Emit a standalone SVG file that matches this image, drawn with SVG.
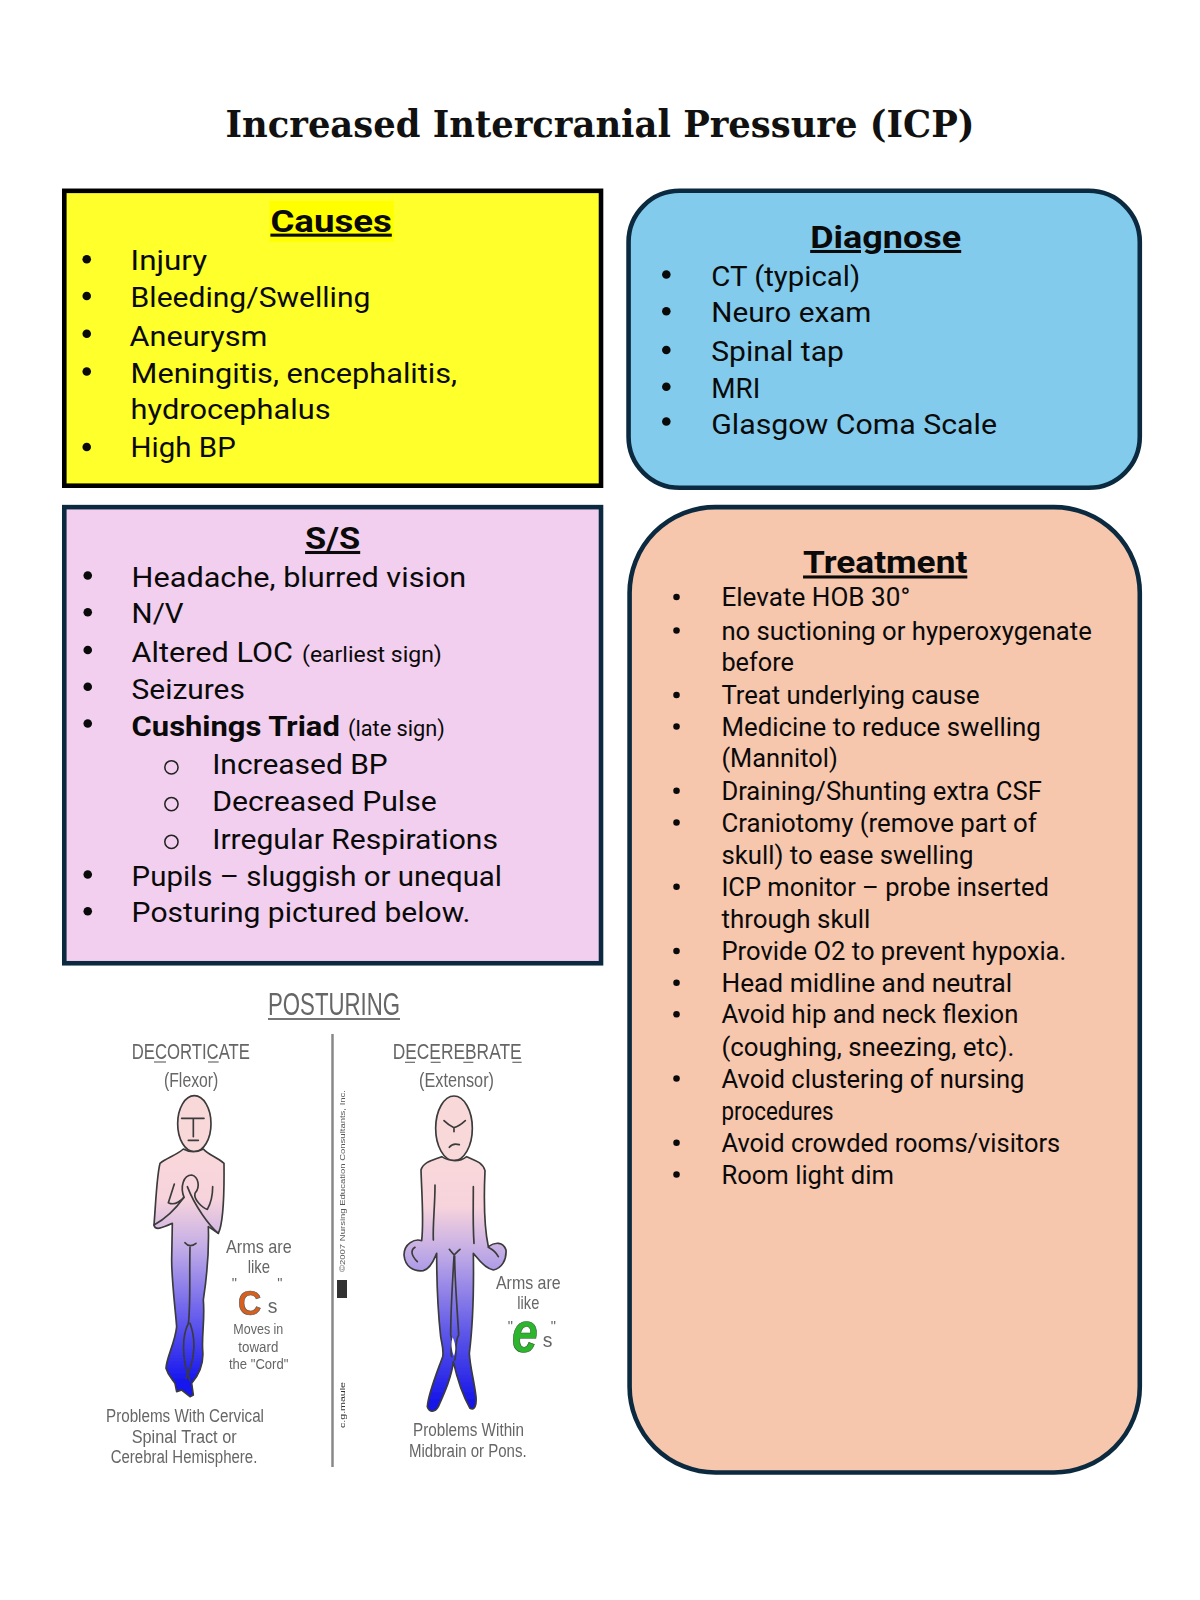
<svg xmlns="http://www.w3.org/2000/svg" width="1200" height="1600" viewBox="0 0 1200 1600">
<style>
text{font-family:"Roboto","Liberation Sans",sans-serif;fill:#0a0a0a}
.t{font-size:27.5px}
.s{font-size:24.5px}
.m{font-size:21px}
.h{font-size:30px;font-weight:700;text-decoration:underline}
.b{font-size:27.5px;font-weight:700}
.title{font-family:"DejaVu Serif","Liberation Serif",serif;font-size:36px;font-weight:700;fill:#111}
.box{stroke:#0b2a3f;stroke-width:4.5}
.dot{fill:#0a0a0a}
.ring{fill:none;stroke:#222;stroke-width:1.5}
.g text{font-family:"Liberation Sans",sans-serif;fill:#666}
.line{fill:none;stroke:#3a3a3a;stroke-width:5;stroke-linejoin:round;stroke-linecap:round}
.ul{stroke:#777;stroke-width:4}
</style>
<defs>
<linearGradient id="g1" gradientUnits="userSpaceOnUse" x1="0" y1="560" x2="0" y2="1270">
<stop offset="0" stop-color="#f9d8da"/><stop offset=".22" stop-color="#f7d3dc"/><stop offset=".42" stop-color="#c4aee6"/><stop offset=".7" stop-color="#6c62ec"/><stop offset="1" stop-color="#1414ee"/>
</linearGradient>
<linearGradient id="g2" gradientUnits="userSpaceOnUse" x1="0" y1="590" x2="0" y2="1340">
<stop offset="0" stop-color="#f9d8da"/><stop offset=".2" stop-color="#f7d3dc"/><stop offset=".4" stop-color="#bda8e6"/><stop offset=".7" stop-color="#5f58e8"/><stop offset="1" stop-color="#1212e8"/>
</linearGradient>
<filter id="soft" x="-5%" y="-5%" width="110%" height="110%"><feGaussianBlur stdDeviation="1.5"/></filter>
<filter id="soft2" x="-5%" y="-5%" width="110%" height="110%"><feGaussianBlur stdDeviation="0.5"/></filter>
</defs>
<rect width="1200" height="1600" fill="#fff"/>
<g transform="scale(1.0204)">
<text id="title" class="title" x="221" y="134" textLength="734" lengthAdjust="spacingAndGlyphs">Increased Intercranial Pressure (ICP)</text>

<g id="causes">
<rect x="63" y="187" width="526" height="289" fill="#ffff2b" stroke="#000" stroke-width="4.5"/>
<rect x="264" y="197" width="122" height="40" fill="#ffff00"/>
<text class="h" x="265" y="227" textLength="119" lengthAdjust="spacingAndGlyphs">Causes</text>
<g class="dot"><circle cx="85" cy="254" r="4.2"/><circle cx="85" cy="290" r="4.2"/><circle cx="85" cy="327" r="4.2"/><circle cx="85" cy="364" r="4.2"/><circle cx="85" cy="438" r="4.2"/></g>
<text class="t" x="128" y="265" textLength="75" lengthAdjust="spacingAndGlyphs">Injury</text>
<text class="t" x="128" y="301" textLength="235" lengthAdjust="spacingAndGlyphs">Bleeding/Swelling</text>
<text class="t" x="127" y="339" textLength="135" lengthAdjust="spacingAndGlyphs">Aneurysm</text>
<text class="t" x="128" y="375" textLength="320" lengthAdjust="spacingAndGlyphs">Meningitis, encephalitis,</text>
<text class="t" x="128" y="411" textLength="196" lengthAdjust="spacingAndGlyphs">hydrocephalus</text>
<text class="t" x="128" y="448" textLength="103" lengthAdjust="spacingAndGlyphs">High BP</text>
</g>

<g id="diagnose">
<rect x="616" y="187" width="501" height="291" rx="50" fill="#83cbec" class="box"/>
<text class="h" x="794" y="243" textLength="148" lengthAdjust="spacingAndGlyphs">Diagnose</text>
<g class="dot"><circle cx="653" cy="269" r="4.2"/><circle cx="653" cy="305" r="4.2"/><circle cx="653" cy="343" r="4.2"/><circle cx="653" cy="379" r="4.2"/><circle cx="653" cy="413" r="4.2"/></g>
<text class="t" x="697" y="280" textLength="146" lengthAdjust="spacingAndGlyphs">CT (typical)</text>
<text class="t" x="697" y="316" textLength="157" lengthAdjust="spacingAndGlyphs">Neuro exam</text>
<text class="t" x="697" y="354" textLength="130" lengthAdjust="spacingAndGlyphs">Spinal tap</text>
<text class="t" x="697" y="390" textLength="48" lengthAdjust="spacingAndGlyphs">MRI</text>
<text class="t" x="697" y="425" textLength="280" lengthAdjust="spacingAndGlyphs">Glasgow Coma Scale</text>
</g>

<g id="signs">
<rect x="63" y="497" width="526" height="447" fill="#f2cfee" class="box"/>
<text class="h" x="299" y="538" textLength="54" lengthAdjust="spacingAndGlyphs">S/S</text>
<g class="dot"><circle cx="86" cy="564" r="4.2"/><circle cx="86" cy="600" r="4.2"/><circle cx="86" cy="637" r="4.2"/><circle cx="86" cy="673" r="4.2"/><circle cx="86" cy="709" r="4.2"/><circle cx="86" cy="857" r="4.2"/><circle cx="86" cy="893" r="4.2"/></g>
<g class="ring"><circle cx="168" cy="752" r="6.5"/><circle cx="168" cy="788" r="6.5"/><circle cx="168" cy="825" r="6.5"/></g>
<text class="t" x="129" y="575" textLength="328" lengthAdjust="spacingAndGlyphs">Headache, blurred vision</text>
<text class="t" x="129" y="611" textLength="51" lengthAdjust="spacingAndGlyphs">N/V</text>
<text class="t" x="129" y="649" textLength="158" lengthAdjust="spacingAndGlyphs">Altered LOC</text>
<text class="m" x="296" y="649" textLength="137" lengthAdjust="spacingAndGlyphs">(earliest sign)</text>
<text class="t" x="129" y="685" textLength="111" lengthAdjust="spacingAndGlyphs">Seizures</text>
<text class="b" x="129" y="721" textLength="204" lengthAdjust="spacingAndGlyphs">Cushings Triad</text>
<text class="m" x="341" y="721" textLength="95" lengthAdjust="spacingAndGlyphs">(late sign)</text>
<text class="t" x="208" y="759" textLength="172" lengthAdjust="spacingAndGlyphs">Increased BP</text>
<text class="t" x="208" y="795" textLength="220" lengthAdjust="spacingAndGlyphs">Decreased Pulse</text>
<text class="t" x="208" y="832" textLength="280" lengthAdjust="spacingAndGlyphs">Irregular Respirations</text>
<text class="t" x="129" y="868" textLength="363" lengthAdjust="spacingAndGlyphs">Pupils – sluggish or unequal</text>
<text class="t" x="129" y="904" textLength="332" lengthAdjust="spacingAndGlyphs">Posturing pictured below.</text>
</g>

<g id="treatment">
<rect x="617" y="497" width="500" height="946" rx="84" fill="#f6c6ad" class="box"/>
<text class="h" x="787" y="562" textLength="161" lengthAdjust="spacingAndGlyphs">Treatment</text>
<g class="dot">
<circle cx="663" cy="585" r="3.2"/><circle cx="663" cy="618" r="3.2"/><circle cx="663" cy="681" r="3.2"/><circle cx="663" cy="712" r="3.2"/><circle cx="663" cy="775" r="3.2"/><circle cx="663" cy="806" r="3.2"/><circle cx="663" cy="869" r="3.2"/><circle cx="663" cy="932" r="3.2"/><circle cx="663" cy="963" r="3.2"/><circle cx="663" cy="994" r="3.2"/><circle cx="663" cy="1057" r="3.2"/><circle cx="663" cy="1120" r="3.2"/><circle cx="663" cy="1151" r="3.2"/>
</g>
<text class="s" x="707" y="594" textLength="185" lengthAdjust="spacingAndGlyphs">Elevate HOB 30°</text>
<text class="s" x="707" y="627" textLength="363" lengthAdjust="spacingAndGlyphs">no suctioning or hyperoxygenate</text>
<text class="s" x="707" y="658" textLength="71" lengthAdjust="spacingAndGlyphs">before</text>
<text class="s" x="707" y="690" textLength="253" lengthAdjust="spacingAndGlyphs">Treat underlying cause</text>
<text class="s" x="707" y="721" textLength="313" lengthAdjust="spacingAndGlyphs">Medicine to reduce swelling</text>
<text class="s" x="707" y="752" textLength="114" lengthAdjust="spacingAndGlyphs">(Mannitol)</text>
<text class="s" x="707" y="784" textLength="314" lengthAdjust="spacingAndGlyphs">Draining/Shunting extra CSF</text>
<text class="s" x="707" y="815" textLength="309" lengthAdjust="spacingAndGlyphs">Craniotomy (remove part of</text>
<text class="s" x="707" y="847" textLength="247" lengthAdjust="spacingAndGlyphs">skull) to ease swelling</text>
<text class="s" x="707" y="878" textLength="321" lengthAdjust="spacingAndGlyphs">ICP monitor – probe inserted</text>
<text class="s" x="707" y="909" textLength="146" lengthAdjust="spacingAndGlyphs">through skull</text>
<text class="s" x="707" y="941" textLength="338" lengthAdjust="spacingAndGlyphs">Provide O2 to prevent hypoxia.</text>
<text class="s" x="707" y="972" textLength="285" lengthAdjust="spacingAndGlyphs">Head midline and neutral</text>
<text class="s" x="707" y="1003" textLength="291" lengthAdjust="spacingAndGlyphs">Avoid hip and neck flexion</text>
<text class="s" x="707" y="1035" textLength="287" lengthAdjust="spacingAndGlyphs">(coughing, sneezing, etc).</text>
<text class="s" x="707" y="1066" textLength="297" lengthAdjust="spacingAndGlyphs">Avoid clustering of nursing</text>
<text class="s" x="707" y="1098" textLength="110" lengthAdjust="spacingAndGlyphs">procedures</text>
<text class="s" x="707" y="1129" textLength="332" lengthAdjust="spacingAndGlyphs">Avoid crowded rooms/visitors</text>
<text class="s" x="707" y="1160" textLength="169" lengthAdjust="spacingAndGlyphs">Room light dim</text>
</g>
</g>

<g id="posturing-header" class="g" filter="url(#soft2)">
<text x="268" y="1015" font-size="32" textLength="132" lengthAdjust="spacingAndGlyphs">POSTURING</text>
<line x1="268" y1="1019" x2="400" y2="1019" stroke="#777" stroke-width="2"/>
<line x1="332.5" y1="1034" x2="332.5" y2="1467" stroke="#888" stroke-width="2.5"/>
<text transform="translate(345 1272) rotate(-90)" font-size="7" textLength="182" lengthAdjust="spacingAndGlyphs" style="fill:#555">©2007 Nursing Education Consultants, Inc.</text>
<rect x="337" y="1280" width="10" height="18" fill="#333"/>
<text transform="translate(345 1428) rotate(-90)" font-size="7" textLength="46" lengthAdjust="spacingAndGlyphs" style="fill:#333">c.g.maule</text>
</g>

<g id="decorticate" class="g" transform="translate(80 960) scale(.33333)" filter="url(#soft)">
<ellipse cx="343" cy="491" rx="50" ry="84" class="line" style="fill:#f9d8da"/>
<path class="line" style="fill:url(#g1)" d="M310,567C290,585 258,595 240,610C230,650 228,720 222,795C225,812 245,805 277,790L275,900C275,960 285,1040 290,1100C285,1150 260,1190 258,1225C265,1250 280,1260 285,1270L290,1295L305,1290L330,1310L340,1305L335,1270C360,1240 372,1210 368,1170C365,1120 375,1080 370,1020C385,920 387,860 385,800L415,820C430,790 433,700 432,610C410,590 385,585 370,567C350,578 330,578 310,567Z"/>
<path class="line" d="M305,475H372M340,475V530M325,541H355"/>
<path class="line" d="M315,848C325,860 335,860 348,850M330,862C328,950 332,1040 325,1090C305,1130 305,1200 330,1262M330,1090C345,1130 350,1190 318,1255"/>
<path class="line" d="M265,728L283,672M265,728C285,738 300,725 312,712C300,680 310,645 335,645C355,650 362,680 345,700C340,720 370,745 382,748C395,725 398,700 398,680"/>
<path class="line" d="M222,795C250,780 285,750 312,712M415,820C390,800 345,740 322,680"/>
<text x="155" y="297" font-size="68" textLength="355" lengthAdjust="spacingAndGlyphs">DECORTICATE</text>
<line class="ul" x1="222" y1="306" x2="258" y2="306"/><line class="ul" x1="384" y1="306" x2="416" y2="306"/>
<text x="252" y="380" font-size="58" textLength="163" lengthAdjust="spacingAndGlyphs">(Flexor)</text>
<text x="438" y="878" font-size="54" textLength="197" lengthAdjust="spacingAndGlyphs">Arms are</text>
<text x="503" y="938" font-size="54" textLength="67" lengthAdjust="spacingAndGlyphs">like</text>
<text x="455" y="985" font-size="44">"</text>
<text x="592" y="985" font-size="44">"</text>
<text x="474" y="1066" font-size="108" font-weight="700" textLength="70" lengthAdjust="spacingAndGlyphs" style="fill:#d9601a;stroke:#555;stroke-width:2">C</text>
<text x="563" y="1058" font-size="58">s</text>
<text x="460" y="1122" font-size="44" textLength="150" lengthAdjust="spacingAndGlyphs">Moves in</text>
<text x="475" y="1175" font-size="44" textLength="120" lengthAdjust="spacingAndGlyphs">toward</text>
<text x="447" y="1228" font-size="44" textLength="178" lengthAdjust="spacingAndGlyphs">the "Cord"</text>
<text x="78" y="1385" font-size="57" textLength="474" lengthAdjust="spacingAndGlyphs">Problems With Cervical</text>
<text x="155" y="1448" font-size="57" textLength="315" lengthAdjust="spacingAndGlyphs">Spinal Tract or</text>
<text x="92" y="1510" font-size="57" textLength="440" lengthAdjust="spacingAndGlyphs">Cerebral Hemisphere.</text>
</g>

<g id="decerebrate" class="g" transform="translate(320 960) scale(.33333)" filter="url(#soft)">
<ellipse cx="402" cy="505" rx="55" ry="97" class="line" style="fill:#f9d8da"/>
<path class="line" style="fill:url(#g2)" d="M365,590C340,600 310,605 303,630C305,700 312,780 305,842C285,835 252,850 252,885C255,920 280,935 310,932C335,925 345,890 350,880C350,960 352,1040 362,1130C365,1150 372,1170 368,1190C350,1240 325,1300 322,1340C328,1358 345,1358 355,1340C375,1295 395,1250 400,1205C410,1250 430,1310 450,1345C465,1352 470,1335 468,1310C462,1260 450,1220 448,1180C458,1100 462,1000 460,880C470,890 490,925 520,930C545,925 560,900 558,870C550,845 525,845 505,860C490,790 492,700 495,632C488,605 460,600 440,590C420,606 390,606 365,590Z"/>
<path class="line" d="M345,675C345,740 338,790 340,840M460,680C460,740 458,790 462,850"/>
<path class="line" d="M372,482C385,495 395,500 402,503C415,500 425,492 436,482M402,503V515M388,562C395,552 405,550 418,554"/>
<path class="line" d="M388,868C395,878 402,882 402,885C408,880 412,875 420,868"/>
<path class="line" d="M402,888C398,960 392,1050 392,1125C402,1150 388,1170 395,1190M404,888C404,960 412,1050 416,1125C402,1150 412,1180 404,1200"/>
<path class="line" d="M285,862C272,870 272,885 292,905M505,862C520,870 530,880 535,890"/>
<path d="M398,1132C404,1145 410,1165 402,1188C394,1170 392,1150 398,1132Z" fill="#fff"/>
<text x="218" y="298" font-size="68" textLength="387" lengthAdjust="spacingAndGlyphs">DECEREBRATE</text>
<line class="ul" x1="255" y1="307" x2="285" y2="307"/><line class="ul" x1="332" y1="307" x2="362" y2="307"/><line class="ul" x1="430" y1="307" x2="460" y2="307"/><line class="ul" x1="577" y1="307" x2="605" y2="307"/>
<text x="297" y="382" font-size="58" textLength="225" lengthAdjust="spacingAndGlyphs">(Extensor)</text>
<text x="528" y="988" font-size="54" textLength="194" lengthAdjust="spacingAndGlyphs">Arms are</text>
<text x="592" y="1048" font-size="54" textLength="66" lengthAdjust="spacingAndGlyphs">like</text>
<text x="563" y="1112" font-size="44">"</text>
<text x="692" y="1112" font-size="44">"</text>
<text x="575" y="1175" font-size="170" font-weight="700" font-style="italic" textLength="78" lengthAdjust="spacingAndGlyphs" style="fill:#2fb52f;stroke:#2a5a2a;stroke-width:2">e</text>
<text x="668" y="1160" font-size="58">s</text>
<text x="279" y="1428" font-size="57" textLength="333" lengthAdjust="spacingAndGlyphs">Problems Within</text>
<text x="267" y="1491" font-size="57" textLength="353" lengthAdjust="spacingAndGlyphs">Midbrain or Pons.</text>
</g>
</svg>
